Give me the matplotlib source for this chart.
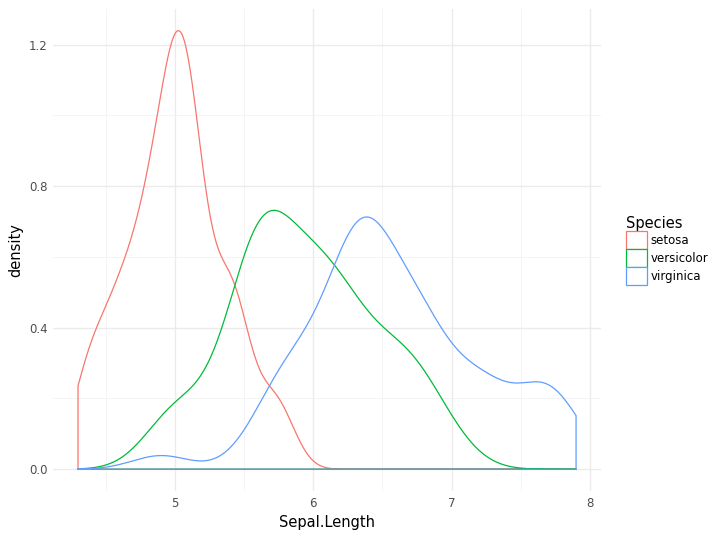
import numpy as np
import matplotlib
matplotlib.use("Agg")
import matplotlib.pyplot as plt
from matplotlib.patches import Rectangle

setosa = [5.1,4.9,4.7,4.6,5.0,5.4,4.6,5.0,4.4,4.9,5.4,4.8,4.8,4.3,5.8,5.7,5.4,5.1,5.7,5.1,5.4,5.1,4.6,5.1,4.8,5.0,5.0,5.2,5.2,4.7,4.8,5.4,5.2,5.5,4.9,5.0,5.5,4.9,4.4,5.1,5.0,4.5,4.4,5.0,5.1,4.8,5.1,4.6,5.3,5.0]
versicolor = [7.0,6.4,6.9,5.5,6.5,5.7,6.3,4.9,6.6,5.2,5.0,5.9,6.0,6.1,5.6,6.7,5.6,5.8,6.2,5.6,5.9,6.1,6.3,6.1,6.4,6.6,6.8,6.7,6.0,5.7,5.5,5.5,5.8,6.0,5.4,6.0,6.7,6.3,5.6,5.5,5.5,6.1,5.8,5.0,5.6,5.7,5.7,6.2,5.1,5.7]
virginica = [6.3,5.8,7.1,6.3,6.5,7.6,4.9,7.3,6.7,7.2,6.5,6.4,6.8,5.7,5.8,6.4,6.5,7.7,7.7,6.0,6.9,5.6,7.7,6.3,6.7,7.2,6.2,6.1,6.4,7.2,7.4,7.9,6.4,6.3,6.1,7.7,6.3,6.4,6.0,6.9,6.7,6.9,5.8,6.8,6.7,6.7,6.3,6.5,6.2,5.9]
species = ["setosa", "versicolor", "virginica"]
colors = ["#F8766D", "#00BA38", "#619CFF"]

all_x = setosa + versicolor + virginica
lo_all, hi_all = min(all_x), max(all_x)

def bw_nrd0(x):
    x = np.asarray(x)
    hi = np.std(x, ddof=1)
    iqr = np.subtract(*np.percentile(x, [75, 25]))
    lo = min(hi, iqr / 1.34)
    return 0.9 * lo * len(x) ** (-0.2)

def kde(x):
    x = np.asarray(x)
    h = bw_nrd0(x)
    g = np.linspace(lo_all, hi_all, 512)
    d = np.exp(-0.5 * ((g[:, None] - x[None, :]) / h) ** 2).sum(1) / (len(x) * h * np.sqrt(2 * np.pi))
    return g, d

fig = plt.figure(figsize=(7.18, 5.38), dpi=100)
ax = fig.add_axes([0.074, 0.087, 0.763, 0.896])
for s, data, c in zip(species, [setosa, versicolor, virginica], colors):
    g, d = kde(data)
    xs = np.concatenate([[g[0]], g, [g[-1]], [g[0]]])
    ys = np.concatenate([[0], d, [0], [0]])
    ax.plot(xs, ys, color=c, lw=0.9)

ax.set_xlim(4.12, 8.08)
ax.set_ylim(-0.062, 1.30)
ax.set_xticks([5, 6, 7, 8])
ax.set_xticks([4.5, 5.5, 6.5, 7.5], minor=True)
ax.set_yticks([0.0, 0.4, 0.8, 1.2])
ax.set_yticklabels(["0.0", "0.4", "0.8", "1.2"])
ax.set_yticks([0.2, 0.6, 1.0], minor=True)
ax.grid(True, which="major", color="#EBEBEB", lw=1.0)
ax.grid(True, which="minor", color="#F2F2F2", lw=0.6)
ax.set_axisbelow(True)
for sp in ax.spines.values():
    sp.set_visible(False)
ax.tick_params(which="both", length=0, labelsize=8.5, labelcolor="#4D4D4D", pad=4)
ax.set_xlabel("Sepal.Length", fontsize=10.5, labelpad=4)
ax.set_ylabel("density", fontsize=10.5, labelpad=4)

handles = [Rectangle((0, 0), 1, 1, facecolor="white", edgecolor=c, lw=0.9) for c in colors]
leg = fig.legend(handles, species, loc="center left", bbox_to_anchor=(0.857, 0.535),
                 title="Species", frameon=False, fontsize=8.5, title_fontsize=10.5,
                 handlelength=1.8, handleheight=1.9, handletextpad=0.3, labelspacing=0.05)
leg._legend_box.align = "left"
fig.savefig("out.png", dpi=100)
